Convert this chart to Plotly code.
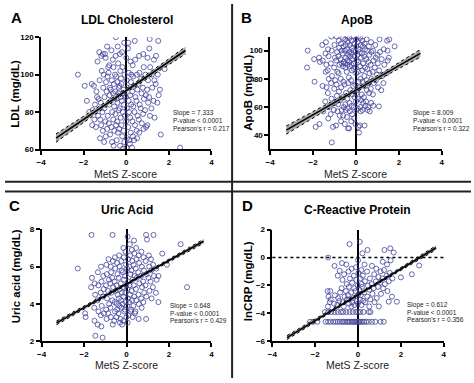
import numpy as np
import plotly.graph_objects as go

# ---------------- data ----------------
# Panel A: LDL cholesterol (mg/dL) vs MetS Z-score
ldl_x = [-2.27, -1.95, -1.85, -1.74,
         -1.62, -1.58, -1.60, -1.52, -1.47, -1.50,
         -1.40, -1.35, -1.42, -1.37, -1.30, -1.27, -1.32, -1.25,
         -1.22, -1.18, -1.15, -1.20, -1.17, -1.23,
         -1.10, -1.08, -1.04, -1.12, -1.06, -1.10,
         -1.00, -0.97, -1.02, -0.98, -0.95, -1.03, -0.96,
         -0.90, -0.88, -0.92, -0.87, -0.90, -0.85,
         -0.80, -0.78, -0.82, -0.77, -0.80, -0.76, -0.83,
         -0.70, -0.68, -0.72, -0.66, -0.70, -0.73, -0.67,
         -0.60, -0.58, -0.62, -0.57, -0.61, -0.56, -0.63, -0.59,
         -0.49, -0.50, -0.47, -0.52, -0.46, -0.51, -0.48, -0.45, -0.53,
         -0.40, -0.38, -0.42, -0.37, -0.41, -0.36, -0.43, -0.39, -0.35,
         -0.30, -0.28, -0.32, -0.27, -0.31, -0.26, -0.33, -0.29, -0.25,
         -0.20, -0.18, -0.22, -0.17, -0.21, -0.16, -0.23, -0.19, -0.15,
         -0.10, -0.08, -0.12, -0.07, -0.11, -0.06, -0.13, -0.09,
         0.00, 0.02, -0.02, 0.03, -0.01, 0.04, 0.01,
         0.10, 0.08, 0.12, 0.07, 0.11, 0.13, 0.09, 0.14,
         0.20, 0.22, 0.18, 0.23, 0.19, 0.21, 0.17, 0.24,
         0.30, 0.32, 0.28, 0.33, 0.29, 0.31, 0.27,
         0.40, 0.42, 0.38, 0.43, 0.39, 0.41, 0.37,
         0.50, 0.52, 0.48, 0.53, 0.49, 0.51,
         0.60, 0.62, 0.58, 0.63, 0.59, 0.61,
         0.70, 0.72, 0.68, 0.73,
         0.80, 0.82, 0.78, 0.83, 0.79, 0.81,
         0.90, 0.92, 0.88, 0.93,
         1.00, 1.02, 0.98, 1.03, 0.99,
         1.10, 1.08, 1.12, 1.07, 1.11,
         1.20, 1.22, 1.18, 1.30, 1.32, 1.28, 1.33,
         1.40, 1.38, 1.50, 1.48, 1.52, 1.46,
         1.62, 1.58, 1.80, 2.53]
ldl_y = [100, 94, 86, 80,
         95, 81, 73, 94, 84, 76,
         91, 107, 72, 88, 87, 112, 78, 97,
         76, 73, 102, 85, 110, 66,
         111, 93, 64, 80, 100, 70,
         111, 109, 88, 75, 96, 82, 67,
         115, 99, 91, 78, 71, 104,
         105, 89, 74, 93, 84, 68, 101,
         113, 97, 86, 80, 72, 92, 64,
         104, 95, 90, 83, 76, 70, 108, 62,
         120, 110, 99, 91, 87, 79, 73, 65, 100,
         115, 106, 96, 90, 85, 81, 75, 69, 93,
         111, 102, 94, 88, 82, 77, 71, 62, 98,
         112, 104, 95, 90, 86, 80, 73, 67, 60.5,
         117, 100, 92, 89, 84, 78, 70, 64,
         109, 97, 88, 82, 75, 66, 61,
         117, 114, 101, 93, 86, 80, 72, 65,
         107, 96, 89, 84, 77, 69, 63, 100,
         105, 99, 91, 83, 75, 67, 61,
         118, 108, 94, 88, 80, 73, 65,
         100, 92, 86, 78, 70, 66,
         110, 101, 95, 84, 76, 69,
         98, 90, 82, 74,
         111, 104, 93, 87, 79, 71,
         100, 89, 81, 72,
         109, 97, 92, 85, 73,
         119, 114, 104, 88, 78,
         100, 93, 82, 108, 97, 86, 77,
         110, 95, 118, 100, 89, 85,
         68, 92, 103, 61]

# Panel B: ApoB (mg/dL)
apob_x = [-2.25, -2.28, -1.95, -1.93, -1.88,
          -1.72, -1.68, -1.70, -1.57, -1.55, -1.53, -1.56,
          -1.40, -1.42, -1.38, -1.41, -1.37, -1.43,
          -1.30, -1.28, -1.32, -1.27, -1.31, -1.26, -1.29,
          -1.15, -1.13, -1.17, -1.12, -1.16, -1.14, -1.18, -1.13, -1.07,
          -1.00, -0.98, -1.02, -0.97, -1.01, -0.99, -1.03, -0.93,
          -0.90, -0.88, -0.92, -0.87, -0.91, -0.89, -0.86,
          -0.80, -0.78, -0.82, -0.77, -0.81, -0.79, -0.83, -0.76,
          -0.70, -0.68, -0.72, -0.67, -0.71, -0.69, -0.73, -0.66, -0.70,
          -0.60, -0.58, -0.62, -0.57, -0.61, -0.59, -0.63, -0.56, -0.60,
          -0.50, -0.48, -0.52, -0.47, -0.51, -0.49, -0.53, -0.46, -0.50, -0.48, -0.52,
          -0.40, -0.38, -0.42, -0.37, -0.41, -0.39, -0.43, -0.36, -0.40, -0.38, -0.42, -0.37,
          -0.30, -0.28, -0.32, -0.27, -0.31, -0.29, -0.33, -0.26, -0.30, -0.28, -0.32,
          -0.20, -0.18, -0.22, -0.17, -0.21, -0.19, -0.23, -0.16, -0.20, -0.18, -0.22,
          -0.10, -0.08, -0.12, -0.07, -0.11, -0.09, -0.13, -0.06, -0.10, -0.08,
          0.00, 0.02, -0.02, 0.03, -0.01, 0.01, -0.03, 0.04, 0.00, 0.02, -0.02,
          0.10, 0.08, 0.12, 0.07, 0.11, 0.09, 0.13, 0.06, 0.10, 0.08, 0.12, 0.14,
          0.20, 0.22, 0.18, 0.23, 0.19, 0.21, 0.17, 0.24, 0.20, 0.22, 0.18,
          0.30, 0.32, 0.28, 0.33, 0.29, 0.31, 0.27, 0.34, 0.30,
          0.40, 0.42, 0.38, 0.43, 0.39, 0.41, 0.37, 0.44, 0.40,
          0.50, 0.52, 0.48, 0.53, 0.49, 0.51, 0.47, 0.54,
          0.60, 0.62, 0.58, 0.63, 0.59, 0.61, 0.57, 0.64,
          0.70, 0.72, 0.68, 0.73, 0.69, 0.71,
          0.80, 0.82, 0.78, 0.83, 0.79, 0.81,
          0.90, 0.92, 0.88, 0.93, 1.00, 1.02, 0.98, 1.03, 1.07,
          1.10, 1.12, 1.08, 1.20, 1.22, 1.18, 1.30, 1.32, 1.28,
          1.45, 1.47, 1.43, 1.48, 1.55, 1.53, 1.80]
apob_y = [100, 88, 94, 78, 46,
          95, 92, 48, 104, 93, 57, 75,
          106, 98, 90, 85, 74, 64,
          101, 96, 86, 80, 70, 60, 52,
          110, 100, 91, 82, 77, 66, 55, 35, 46,
          104, 95, 88, 79, 73, 63, 58, 47,
          110, 99, 93, 85, 76, 68, 57,
          107, 102, 96, 90, 84, 71, 62, 54,
          105, 100, 94, 91, 80, 74, 65, 58, 50,
          109, 103, 98, 92, 89, 78, 67, 60, 54,
          108, 104, 100, 95, 91, 88, 76, 70, 62, 58, 48,
          110, 106, 101, 97, 93, 90, 85, 77, 66, 59, 53, 45,
          109, 104, 99, 96, 92, 89, 81, 72, 63, 57, 45,
          107, 102, 98, 94, 90, 86, 79, 69, 61, 55, 50,
          110, 105, 100, 96, 91, 87, 75, 67, 60, 52,
          108, 103, 99, 93, 88, 84, 76, 70, 64, 58, 48,
          110, 106, 101, 97, 92, 85, 78, 72, 66, 59, 46, 42,
          109, 104, 99, 95, 89, 80, 74, 65, 60, 57, 47,
          107, 103, 98, 91, 86, 78, 69, 63, 58,
          105, 101, 96, 88, 82, 75, 67, 61, 47,
          108, 100, 94, 87, 79, 72, 64, 58,
          103, 97, 92, 84, 77, 70, 60, 57,
          106, 99, 90, 80, 73, 63,
          100, 93, 85, 77, 69, 61,
          104, 95, 88, 79, 97, 91, 83, 74, 60.5,
          108, 99, 86, 94, 82, 72, 101, 90, 77,
          107, 100, 84, 93, 108, 95, 103]

# Panel C: uric acid (mg/dL)
uric_x = [-2.30, -1.95, -1.93, -1.65, -1.63, -1.67,
          -1.50, -1.48, -1.52, -1.47, -1.51,
          -1.35, -1.33, -1.37, -1.32, -1.36,
          -1.20, -1.18, -1.22, -1.17, -1.21, -1.19,
          -1.10, -1.08, -1.12, -1.07, -1.13,
          -0.95, -0.93, -0.97, -0.92, -0.96, -0.94,
          -0.85, -0.83, -0.87, -0.82, -0.86,
          -0.75, -0.73, -0.77, -0.72, -0.76, -0.74,
          -0.66, -0.64, -0.68, -0.63, -0.67, -0.65,
          -0.55, -0.53, -0.57, -0.52, -0.56, -0.54, -0.58,
          -0.45, -0.43, -0.47, -0.42, -0.46, -0.44, -0.48,
          -0.35, -0.33, -0.37, -0.32, -0.36, -0.34, -0.38, -0.31,
          -0.25, -0.23, -0.27, -0.22, -0.26, -0.24, -0.28, -0.21,
          -0.15, -0.13, -0.17, -0.12, -0.16, -0.14, -0.18, -0.11, -0.15,
          -0.05, -0.03, -0.07, -0.02, -0.06, -0.04, -0.08, -0.01,
          0.05, 0.07, 0.03, 0.08, 0.04, 0.06, 0.02, 0.09, 0.05,
          0.15, 0.17, 0.13, 0.18, 0.14, 0.16, 0.12, 0.19,
          0.25, 0.27, 0.23, 0.28, 0.24, 0.26, 0.22, 0.29,
          0.35, 0.37, 0.33, 0.38, 0.34, 0.36, 0.32, 0.39,
          0.45, 0.47, 0.43, 0.48, 0.44, 0.46, 0.42,
          0.57, 0.59, 0.55, 0.60, 0.56, 0.58, 0.57,
          0.70, 0.72, 0.68, 0.73, 0.69, 0.71,
          0.80, 0.82, 0.78, 0.83, 0.79,
          0.92, 0.96, 0.90, 0.94, 0.89, 0.93, 0.92,
          1.05, 1.07, 1.03, 1.08, 1.15, 1.17, 1.13, 1.18,
          1.27, 1.25, 1.29, 1.24, 1.40, 1.42, 1.38,
          1.50, 1.50, 1.68, 1.90, 2.55, 2.85]
uric_y = [5.9, 3.5, 3.3, 7.7, 5.4, 4.9,
          5.1, 4.5, 3.8, 2.3, 3.1,
          5.7, 5.0, 4.2, 3.6, 2.9,
          6.0, 5.2, 4.6, 3.9, 3.4, 2.8,
          5.5, 4.8, 4.4, 3.5, 2.2,
          6.1, 5.6, 5.0, 4.3, 3.7, 3.2,
          6.4, 5.3, 4.7, 4.0, 3.5,
          6.0, 5.7, 5.1, 4.6, 3.8, 3.3,
          7.7, 6.3, 5.4, 4.9, 4.2, 2.9,
          6.5, 5.9, 5.2, 4.7, 4.1, 3.6, 3.1,
          6.2, 5.6, 5.0, 4.5, 4.0, 3.7, 3.3,
          6.6, 6.0, 5.4, 4.8, 4.3, 3.9, 3.5, 3.0,
          6.3, 5.8, 5.1, 4.6, 4.2, 3.8, 3.2, 2.9,
          7.0, 6.5, 5.7, 5.3, 4.9, 4.4, 4.0, 3.6, 3.1,
          6.8, 6.1, 5.5, 5.0, 4.6, 4.1, 3.7, 3.3,
          7.6, 6.4, 5.9, 5.2, 4.8, 4.3, 3.9, 3.4, 3.0,
          7.2, 6.6, 6.0, 5.6, 5.0, 4.5, 4.1, 3.6,
          6.9, 6.3, 5.8, 5.3, 4.7, 4.2, 3.7, 3.3,
          7.4, 6.7, 6.1, 5.5, 5.0, 4.4, 3.9, 3.5,
          7.0, 6.4, 5.9, 5.4, 4.8, 4.2, 3.6,
          6.6, 6.2, 5.7, 5.1, 4.5, 4.0, 3.2,
          6.8, 6.0, 5.5, 4.9, 4.3, 3.8,
          6.5, 5.8, 5.2, 4.6, 4.1,
          7.7, 7.45, 6.3, 5.6, 5.0, 4.4, 3.2,
          6.6, 6.0, 5.4, 4.7, 6.4, 5.8, 5.2, 4.3,
          7.7, 6.1, 5.5, 4.9, 5.9, 5.3, 4.6,
          5.5, 4.1, 6.7, 6.1, 7.2, 4.9]

# Panel D: lnCRP
crp_x = [-2.24, -2.10, -1.90, -1.52, -1.40, -1.28, -1.15, -1.05, -0.95, -0.85, -0.75,
         -0.68, -0.60, -0.52, -0.45, -0.38, -0.30, -0.24, -0.18, -0.12, -0.06, 0.00,
         0.06, 0.12, 0.20, 0.28, 0.38, 0.50, 0.65, 0.80, 1.05, 1.20,
         -1.55, -1.40, -1.25, -1.10, -0.95, -0.80, -0.70, -0.55, -0.40, -0.25, -0.10,
         0.00, 0.10, 0.25, 0.50, 0.58,
         -1.40, -1.42, -1.38, -1.41,
         -1.30, -1.28, -1.32,
         -1.10, -1.08, -1.12,
         -0.95, -0.93, -0.97,
         -0.86, -0.84, -0.88,
         -0.75, -0.73, -0.77, -0.72,
         -0.65, -0.63, -0.67,
         -0.55, -0.53, -0.57, -0.52,
         -0.45, -0.43, -0.47, -0.42,
         -0.40, -0.38, -0.41,
         -0.30, -0.28, -0.32, -0.27, -0.31,
         -0.20, -0.18, -0.22, -0.17,
         -0.10, -0.08, -0.12, -0.07,
         0.00, 0.02, -0.02, 0.03, -0.01,
         0.08, 0.10, 0.06, 0.09,
         0.15, 0.17, 0.13, 0.16,
         0.20, 0.22, 0.18, 0.23,
         0.30, 0.32, 0.28, 0.33,
         0.44, 0.42, 0.46, 0.43,
         0.55, 0.53, 0.57, 0.52,
         0.65, 0.63, 0.67,
         0.75, 0.73, 0.77,
         0.85, 0.83, 0.87,
         0.95, 0.93, 0.97,
         1.05, 1.03, 1.07,
         1.15, 1.13, 1.17,
         1.23, 1.21, 1.25,
         1.35, 1.33, 1.37,
         1.43, 1.43, 1.50, 1.52, 1.48,
         1.58, 1.60, 1.66, 1.81, 2.00, 2.51, 2.85]
crp_y = [-4.6, -4.6, -4.6, -4.6, -4.6, -4.6, -4.6, -4.6, -4.6, -4.6, -4.6,
         -4.6, -4.6, -4.6, -4.6, -4.6, -4.6, -4.6, -4.6, -4.6, -4.6, -4.6,
         -4.6, -4.6, -4.6, -4.6, -4.6, -4.6, -4.6, -4.6, -4.6, -4.6,
         -3.9, -3.9, -3.9, -3.9, -3.9, -3.9, -3.9, -3.9, -3.9, -3.9, -3.9,
         -3.9, -3.9, -3.9, -3.9, -3.9,
         0.0, -2.4, -2.8, -3.5,
         -2.4, -3.0, -3.2,
         -0.6, -2.7, -3.3,
         -1.3, -2.9, -3.4,
         -0.95, -2.5, -3.1,
         -0.4, -1.6, -2.2, -3.2,
         -1.2, -2.8, -3.5,
         -0.5, -1.9, -2.4, -3.0,
         -1.0, -2.1, -2.7, -3.3,
         0.96, -1.5, -3.0,
         -0.8, -1.8, -2.5, -3.2, -3.5,
         -1.3, -2.2, -2.9, -3.4,
         -0.7, -1.6, -2.4, -3.1,
         -0.2, -1.1, -2.0, -2.6, -3.3,
         1.12, -1.5, -2.3, -3.0,
         -0.9, -1.9, -2.7, -3.4,
         0.3, -1.3, -2.1, -3.1,
         -0.5, -1.7, -2.5, -3.2,
         0.54, -1.0, -2.0, -2.8,
         -1.5, -2.3, -3.0, -3.5,
         -0.6, -1.9, -2.6,
         -1.2, -2.2, -3.2,
         -0.8, -1.7, -2.9,
         -1.4, -2.1, -3.5,
         -1.0, -1.8, -2.6,
         -0.3, -1.5, -2.2,
         0.54, -0.9, -1.9,
         -0.5, -1.3, -2.4,
         -1.7, -3.16, 0.66, -0.2, -1.1,
         -2.8, -1.5, 0.36, -3.16, -1.42, -1.2, -0.57]

panel_letters = ["A", "B", "C", "D"]
panel_titles = ["LDL Cholesterol", "ApoB", "Uric Acid", "C-Reactive Protein"]
y_titles = ["LDL (mg/dL)", "ApoB (mg/dL)", "Uric acid (mg/dL)", "lnCRP (mg/dL)"]
x_title = "MetS Z-score"
x_ticks = [-4, -2, 0, 2, 4]
y_ranges = [[60, 120], [30, 110], [2, 8], [-6, 2]]
y_ticks = [[60, 80, 100, 120], [40, 60, 80, 100], [2, 4, 6, 8], [-6, -4, -2, 0, 2]]
slope_text = ["7.333", "8.009", "0.648", "0.612"]
p_text = ["< 0.0001", "< 0.0001", "< 0.0001", "< 0.0001"]
r_text = ["0.217", "0.322", "0.429", "0.356"]
# drawn regression lines (as they appear) and CI band half-widths
fit_intercept = [91.5, 72.0, 5.07, -2.66]
fit_slope = [7.7, 8.7, 0.63, 0.924]
fit_xmin = [-3.3, -3.25, -3.3, -3.32]
fit_xmax = [2.78, 3.0, 3.63, 3.64]
band_mid = [1.0, 1.4, 0.05, 0.07]
band_end = [2.2, 2.9, 0.11, 0.15]

xs = [ldl_x, apob_x, uric_x, crp_x]
ys = [ldl_y, apob_y, uric_y, crp_y]

# ---------------- layout geometry (pixels) ----------------
W, H = 474, 383
plot_px = [  # left, right, top, bottom
    (36.7, 210.0, 34.0, 149.0),
    (269.7, 444.3, 33.3, 149.0),
    (37.3, 210.0, 230.7, 345.5),
    (272.0, 446.3, 231.0, 345.5),
]
letter_pos = [(12, 14), (246, 14), (10, 206), (247, 206)]
title_pos = [(124, 16), (358, 16), (124, 211), (359, 211)]
ytitle_pos = [(10, 92), (247, 91), (12, 279), (248, 284)]
xtitle_pos = [(123, 174), (357, 174), (124, 370), (359, 370)]
stats_pos = [(169, 112), (413, 112), (166, 309), (407, 308)]

def fx(p):
    return p / W

def fy(p):
    return 1 - p / H

MARK = "#44449a"
FONT = "Liberation Sans, Arial"
fig = go.Figure()
annotations = []
shapes = []

def add_text(px_, py_, text, size, color="black", angle=0, xanchor="center"):
    annotations.append(dict(x=fx(px_), y=fy(py_), xref="paper", yref="paper",
                            text=text, showarrow=False, textangle=angle,
                            xanchor=xanchor, yanchor="middle",
                            font=dict(family=FONT, size=size, color=color)))

for i in range(4):
    n = i + 1
    xa = "x" if n == 1 else f"x{n}"
    ya = "y" if n == 1 else f"y{n}"
    xkey = "xaxis" if n == 1 else f"xaxis{n}"
    ykey = "yaxis" if n == 1 else f"yaxis{n}"
    l, r, t, b = plot_px[i]

    fig.add_trace(go.Scatter(
        x=xs[i], y=ys[i], mode="markers", xaxis=xa, yaxis=ya,
        marker=dict(symbol="circle-open", size=5, color=MARK,
                    line=dict(width=0.8, color=MARK)),
        showlegend=False, hoverinfo="skip"))

    fxs = np.linspace(fit_xmin[i], fit_xmax[i], 60)
    fys = fit_intercept[i] + fit_slope[i] * fxs
    span = max(abs(fit_xmin[i]), abs(fit_xmax[i]))
    half = np.sqrt(band_mid[i] ** 2 + (band_end[i] ** 2 - band_mid[i] ** 2) * (fxs / span) ** 2)
    fig.add_trace(go.Scatter(x=fxs, y=fys - half, mode="lines", xaxis=xa, yaxis=ya,
                             line=dict(color="black", width=1, dash="dot"),
                             showlegend=False, hoverinfo="skip"))
    fig.add_trace(go.Scatter(x=fxs, y=fys + half, mode="lines", xaxis=xa, yaxis=ya,
                             fill="tonexty", fillcolor="rgba(150,150,150,0.8)",
                             line=dict(color="black", width=1, dash="dot"),
                             showlegend=False, hoverinfo="skip"))
    fig.add_trace(go.Scatter(x=fxs, y=fys, mode="lines", xaxis=xa, yaxis=ya,
                             line=dict(color="black", width=1.6),
                             showlegend=False, hoverinfo="skip"))

    tickfont = dict(family=FONT, size=8, color="black", weight="bold")
    fig.layout[xkey] = dict(
        domain=[fx(l), fx(r)], range=[-4, 4], anchor=ya, tickvals=x_ticks,
        showline=True, linecolor="black", linewidth=1.5, ticks="outside",
        ticklen=4, tickwidth=1.5, tickcolor="black", showgrid=False,
        zeroline=True, zerolinecolor="black", zerolinewidth=1.5,
        tickfont=tickfont)
    fig.layout[ykey] = dict(
        domain=[fy(b), fy(t)], range=y_ranges[i], anchor=xa, tickvals=y_ticks[i],
        showline=True, linecolor="black", linewidth=1.5, ticks="outside",
        ticklen=4, tickwidth=1.5, tickcolor="black", showgrid=False,
        zeroline=False, tickfont=tickfont)

    add_text(*letter_pos[i], f"<b>{panel_letters[i]}</b>", 15)
    add_text(*title_pos[i], f"<b>{panel_titles[i]}</b>", 12)
    add_text(*ytitle_pos[i], f"<b>{y_titles[i]}</b>", 11.5, angle=-90)
    add_text(*xtitle_pos[i], x_title, 10.5, color="#222")
    sx, sy = stats_pos[i]
    lines = [f"Slope = {slope_text[i]}", f"P-value {p_text[i]}", f"Pearson's r = {r_text[i]}"]
    for k, txt in enumerate(lines):
        add_text(sx, sy + k * 7.5, txt, 6.5, color="#222", xanchor="left")

# dotted zero reference line in panel D
shapes.append(dict(type="line", xref="x4 domain", yref="y4", x0=0, x1=1, y0=0, y1=0,
                   line=dict(color="black", width=1.5, dash="dot")))
# panel divider lines
shapes.append(dict(type="line", xref="paper", yref="paper", x0=fx(231), x1=fx(231), y0=0, y1=1,
                   line=dict(color="#222", width=2)))
shapes.append(dict(type="line", xref="paper", yref="paper", x0=0, x1=1, y0=fy(182), y1=fy(182),
                   line=dict(color="#222", width=2)))
shapes.append(dict(type="line", xref="paper", yref="paper", x0=0, x1=1, y0=fy(192), y1=fy(192),
                   line=dict(color="#222", width=2)))

fig.update_layout(
    width=W, height=H, autosize=False,
    margin=dict(l=0, r=0, t=0, b=0),
    paper_bgcolor="white", plot_bgcolor="white",
    annotations=annotations, shapes=shapes,
    font=dict(family=FONT),
)

fig.write_html("out.html", config={"displayModeBar": False},
               post_script="document.body.style.margin='0';document.body.style.overflow='hidden';")
